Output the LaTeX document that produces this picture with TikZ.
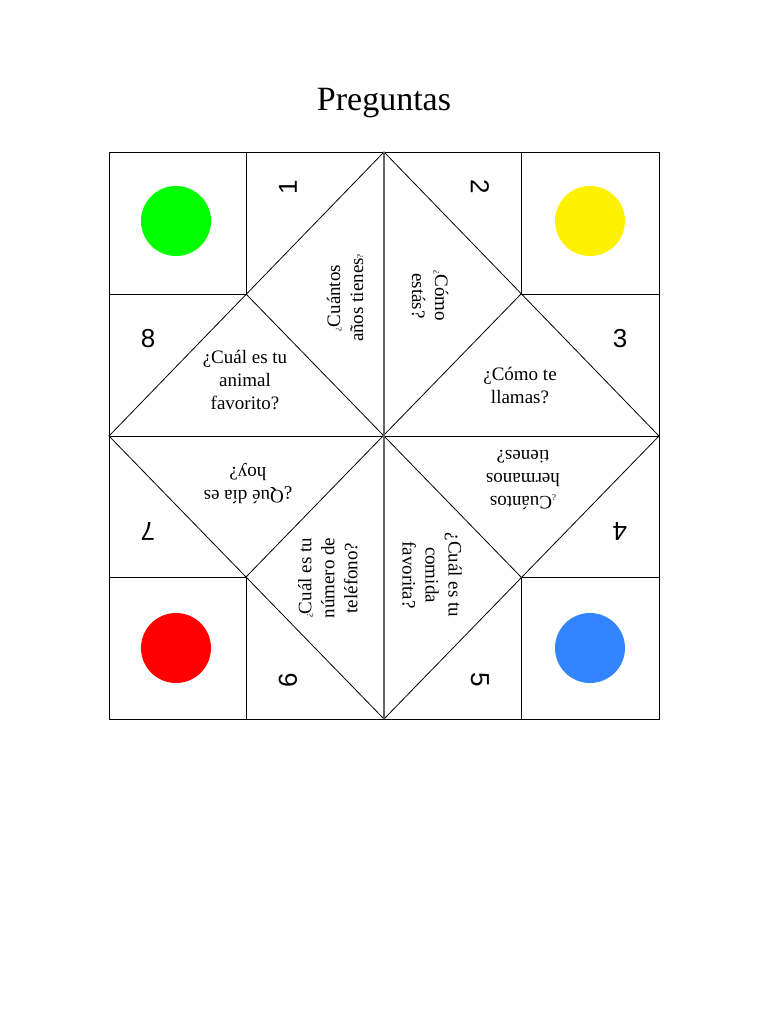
\documentclass[tikz,border=0pt]{standalone}
\usepackage{fontspec}
\setmainfont{Liberation Serif}
\newfontfamily\numfont{Liberation Sans}
\begin{document}
\begin{tikzpicture}[x=1pt,y=-1pt,
  q/.style={align=center,font=\fontsize{19}{23}\selectfont,inner sep=0},
  num/.style={font=\numfont\fontsize{26}{26}\selectfont,inner sep=0},
  ln/.style={draw=black,line width=0.8pt}]
\useasboundingbox (0,0) rectangle (768,1024);
\node (title) at (384,103) {\fontsize{34}{34}\selectfont Preguntas};
% frame
\draw[ln] (109,152) rectangle (659,719);
\draw[ln] (246,152) -- (246,294) (521,152) -- (521,294) (246,577) -- (246,719) (521,577) -- (521,719);
\draw[ln] (109,294) -- (246,294) (521,294) -- (659,294) (109,577) -- (246,577) (521,577) -- (659,577);
\draw[ln] (384,152) -- (659,436) -- (384,719) -- (109,436) -- cycle;
\draw[ln] (246,294) -- (521,577) (521,294) -- (246,577);
\draw[ln] (109,436) -- (659,436);
\draw[draw=gray!80!black,line width=1.2pt] (384,152) -- (384,719);
% circles
\fill[green] (176,221) circle (35);
\fill[yellow] (590,221) circle (35);
\fill[red] (176,648) circle (35);
\fill[blue!60!cyan!80!white] (590,648) circle (35);
% numbers
\node[num,rotate=90] (n1) at (288,187) {1};
\node[num,rotate=-90] (n2) at (480,187) {2};
\node[num] (n8) at (148,339) {8};
\node[num] (n3) at (620,339) {3};
\node[num,rotate=180] (n7) at (148,531) {7};
\node[num,rotate=180] (n4) at (620,531) {4};
\node[num,rotate=90] (n6) at (288,680) {6};
\node[num,rotate=-90] (n5) at (480,680) {5};
% questions
\node[q,rotate=90] (qa) at (345,298) {{\small¿}Cuántos\\años tienes{\small?}};
\node[q,rotate=-90] (qb) at (430,296) {{\small¿}Cómo\\estás?};
\node[q] (qc) at (245,380) {¿Cuál es tu\\animal\\favorito?};
\node[q] (qd) at (520,386) {¿Cómo te\\llamas?};
\node[q,rotate=180] (qe) at (248,484) {¿Qué día es\\hoy?};
\node[q,rotate=180] (qf) at (523,480) {{\small¿}Cuántos\\hermanos\\tienes?};
\node[q,rotate=90] (qg) at (328,578) {{\small¿}Cuál es tu\\número de\\teléfono?};
\node[q,rotate=-90] (qh) at (432,575) {¿Cuál es tu\\comida\\favorita?};
\end{tikzpicture}
\end{document}
